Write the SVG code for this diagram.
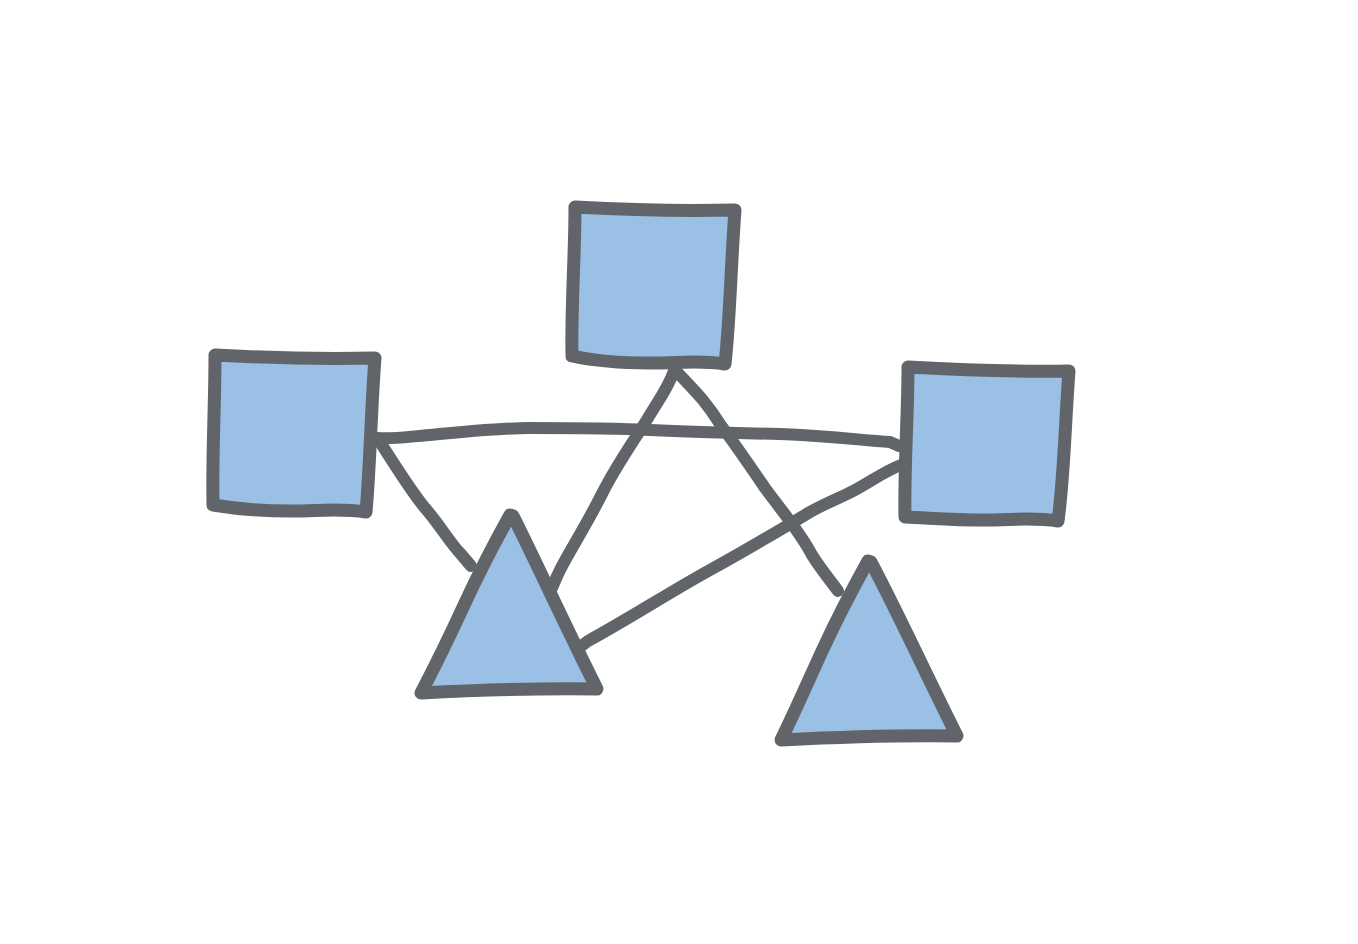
<svg xmlns="http://www.w3.org/2000/svg" width="1358" height="944" viewBox="0 0 1358 944">
<style>
.edge{fill:none;stroke:#616569;stroke-width:12;stroke-linecap:round;stroke-linejoin:round}
.shape{fill:#9ac0e6;stroke:#616569;stroke-width:13;stroke-linecap:round;stroke-linejoin:round}
</style>
<rect width="1358" height="944" fill="#ffffff"/>
<g id="connectors">
<path class="edge" d="M378,438 C395,439 405,437 430,435 C470,431 500,428 530,428 C580,428 610,428 650,430 C700,432 730,433 780,434 C830,436 860,440 890,442 L899,446"/>
<path class="edge" d="M380,442 C395,465 410,490 425,508 C440,525 450,543 460,553 L471,566"/>
<path class="edge" d="M674,371 C668,388 660,398 648,418 C630,447 620,460 605,488 C585,528 570,550 560,570 C555,580 553,586 551,590"/>
<path class="edge" d="M678,373 C693,389 705,400 720,424 C735,444 750,466 765,488 C785,515 800,532 812,555 C820,568 830,580 838,591"/>
<path class="edge" d="M901,465 C885,471 870,482 855,490 C840,498 828,502 810,512 C780,530 750,548 710,570 C670,592 630,618 588,641 L580,647"/>
</g>
<g id="square-top">
<path class="shape" d="M575,207 C630,210 690,211 735,210 C731,262 730,320 725,364 C700,360 680,363 650,363 C620,363 595,361 572,356 C571,306 575,256 575,207 Z"/>
</g>
<g id="square-left">
<path class="shape" d="M215,355 C270,358 330,359 375,358 C371,410 370,468 366,512 C340,508 320,511 290,511 C260,511 237,509 213,505 C212,455 215,405 215,355 Z"/>
</g>
<g id="square-right">
<path class="shape" d="M908,367 C963,370 1023,372 1069,371 C1065,423 1064,478 1058,521 C1033,517 1013,520 983,520 C953,520 930,518 905,517 C904,467 908,417 908,367 Z"/>
</g>
<g id="triangle-left">
<path class="shape" d="M510,515 C495,542 478,575 465,603 C448,640 432,672 421,693 C480,690 530,688 597,689 C560,615 540,570 513,516 Z"/>
</g>
<g id="triangle-right">
<path class="shape" d="M868,561 C853,588 836,621 823,649 C806,686 792,718 781,740 C840,737 890,735 957,736 C920,662 900,617 871,562 Z"/>
</g>
</svg>
